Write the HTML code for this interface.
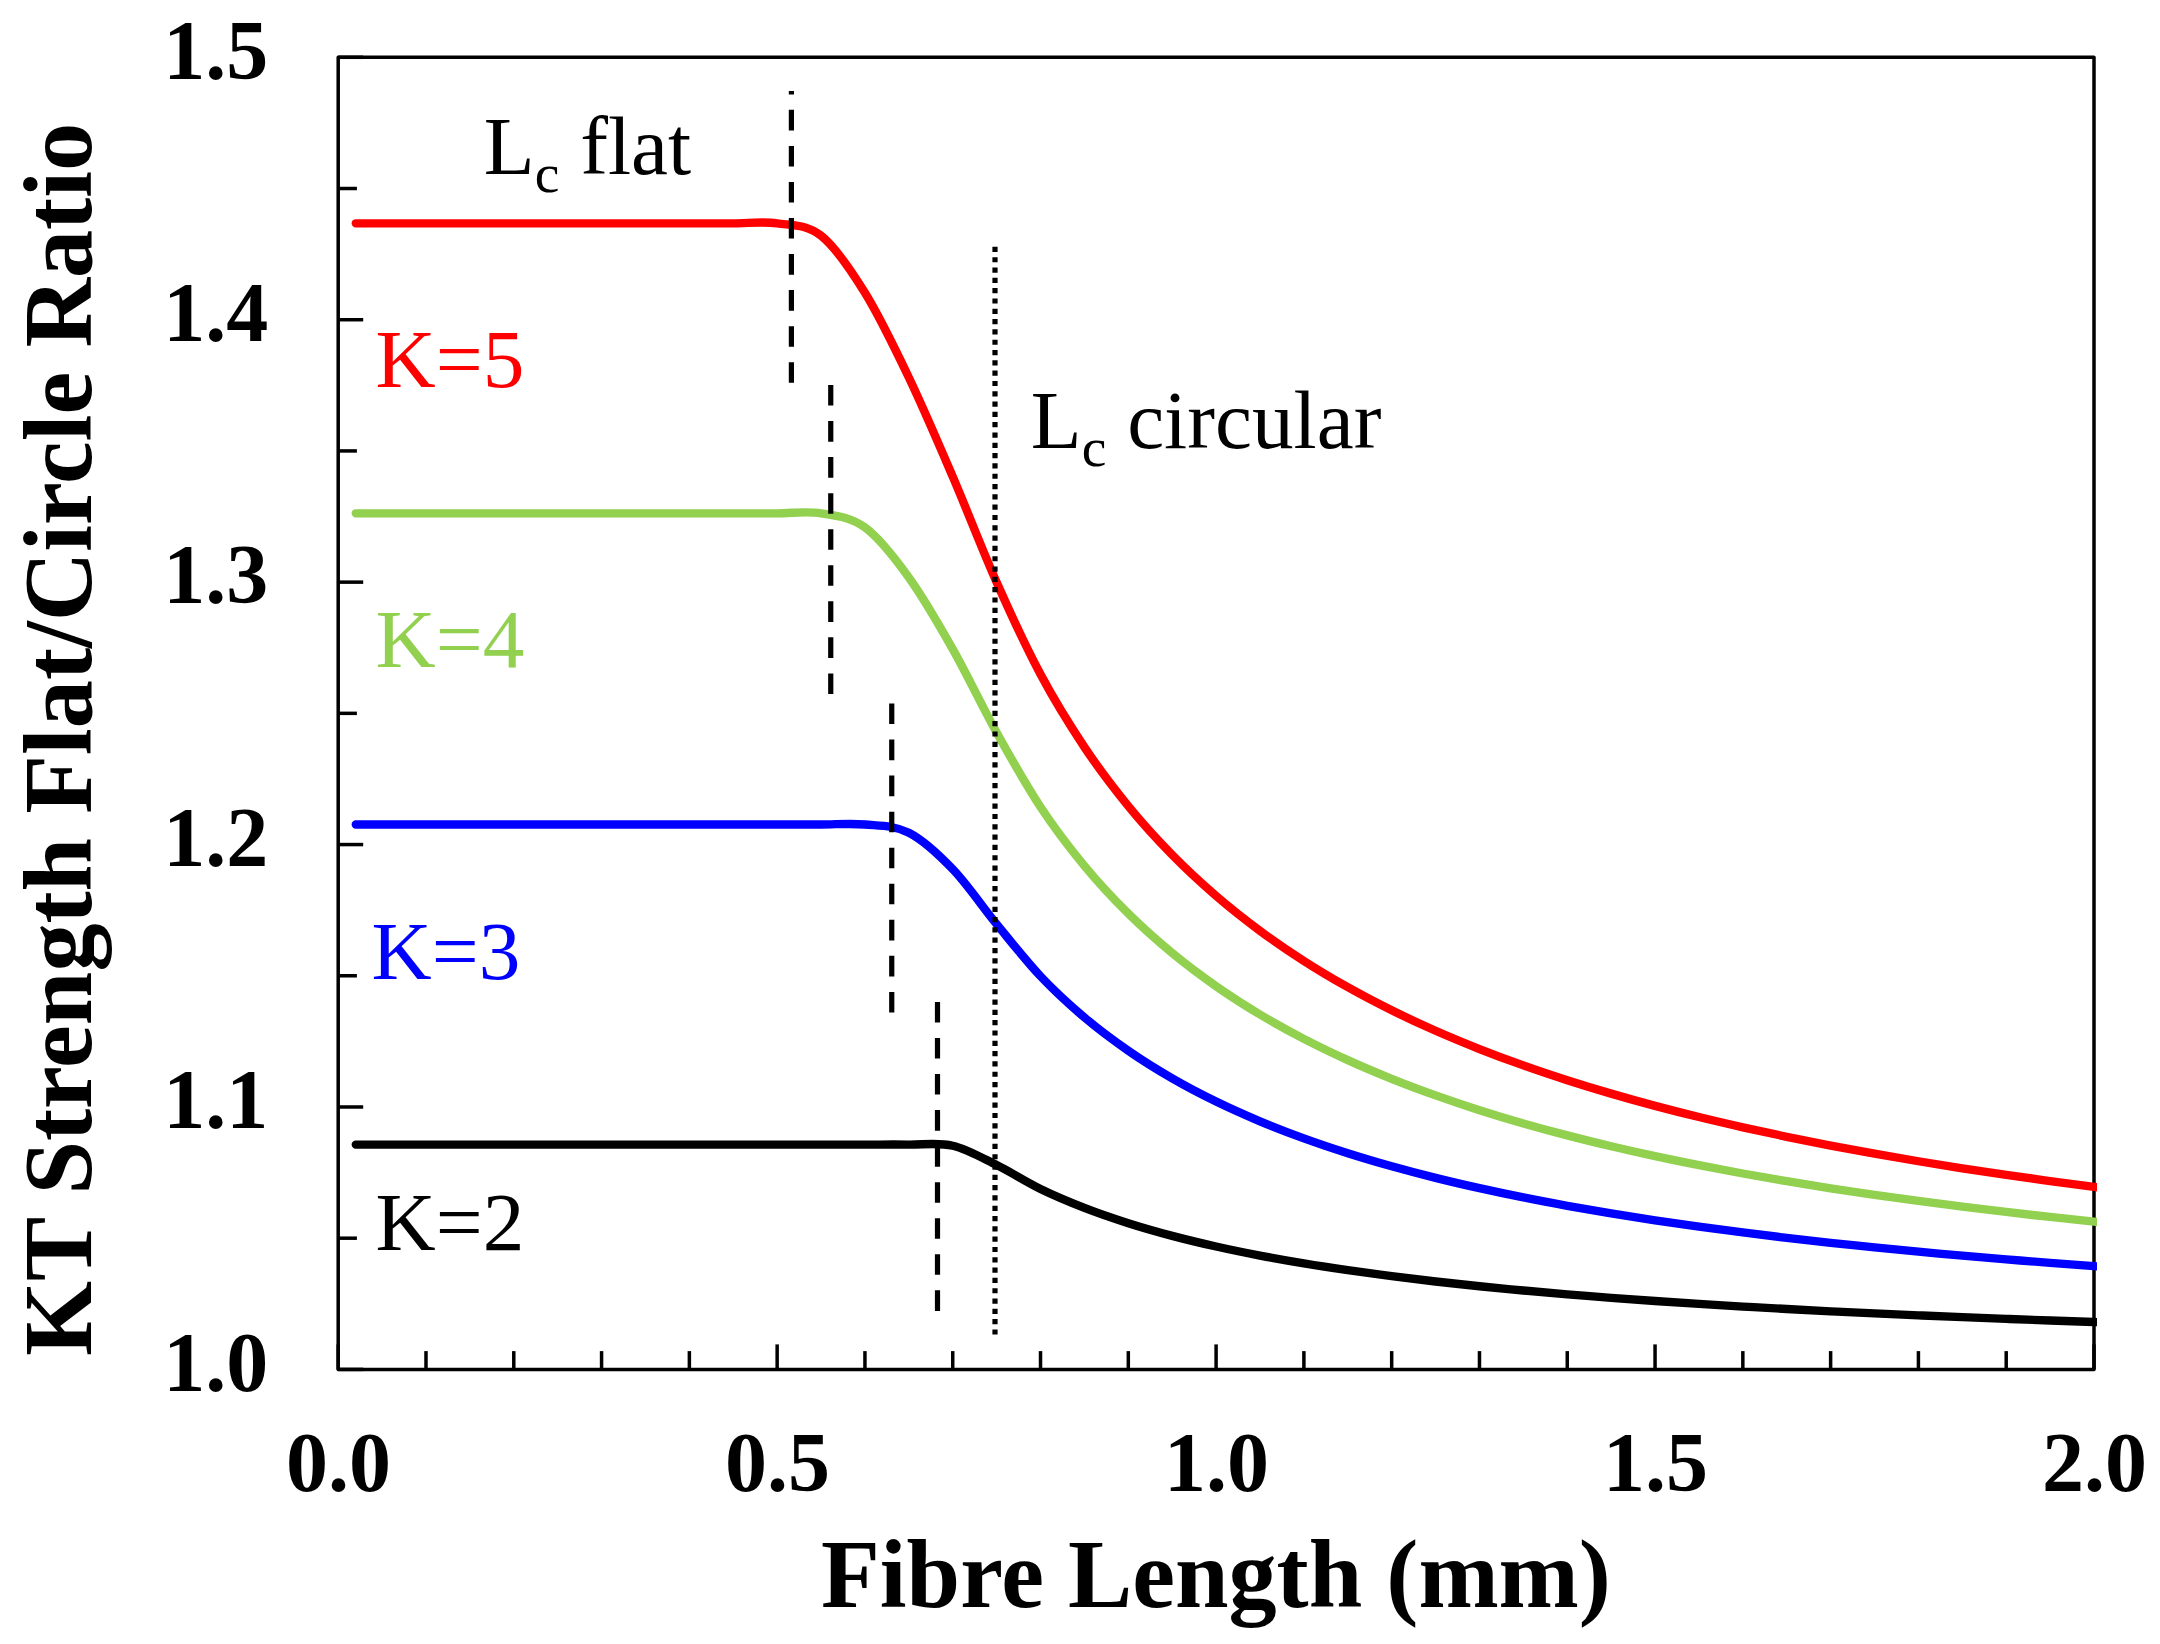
<!DOCTYPE html>
<html lang="en"><head><meta charset="utf-8"><title>KT Strength Flat/Circle Ratio vs Fibre Length</title>
<style>html,body{margin:0;padding:0;background:#fff}svg{display:block}text{font-family:"Liberation Serif","Times New Roman",serif}.b{font-weight:bold}</style></head><body>
<svg width="2160" height="1644" viewBox="0 0 2160 1644">
<rect width="2160" height="1644" fill="#fff"/>
<defs><clipPath id="cp"><rect x="330" y="50" width="1767" height="1330"/></clipPath></defs>
<g stroke="#000" stroke-width="3.50" fill="none" stroke-linecap="butt">
<rect x="338.20" y="57.30" width="1755.80" height="1312.10" stroke-linejoin="round"/>
<line x1="338.20" y1="1369.40" x2="338.20" y2="1344.40"/>
<line x1="425.99" y1="1369.40" x2="425.99" y2="1351.10"/>
<line x1="513.78" y1="1369.40" x2="513.78" y2="1351.10"/>
<line x1="601.57" y1="1369.40" x2="601.57" y2="1351.10"/>
<line x1="689.36" y1="1369.40" x2="689.36" y2="1351.10"/>
<line x1="777.15" y1="1369.40" x2="777.15" y2="1344.40"/>
<line x1="864.94" y1="1369.40" x2="864.94" y2="1351.10"/>
<line x1="952.73" y1="1369.40" x2="952.73" y2="1351.10"/>
<line x1="1040.52" y1="1369.40" x2="1040.52" y2="1351.10"/>
<line x1="1128.31" y1="1369.40" x2="1128.31" y2="1351.10"/>
<line x1="1216.10" y1="1369.40" x2="1216.10" y2="1344.40"/>
<line x1="1303.89" y1="1369.40" x2="1303.89" y2="1351.10"/>
<line x1="1391.68" y1="1369.40" x2="1391.68" y2="1351.10"/>
<line x1="1479.47" y1="1369.40" x2="1479.47" y2="1351.10"/>
<line x1="1567.26" y1="1369.40" x2="1567.26" y2="1351.10"/>
<line x1="1655.05" y1="1369.40" x2="1655.05" y2="1344.40"/>
<line x1="1742.84" y1="1369.40" x2="1742.84" y2="1351.10"/>
<line x1="1830.63" y1="1369.40" x2="1830.63" y2="1351.10"/>
<line x1="1918.42" y1="1369.40" x2="1918.42" y2="1351.10"/>
<line x1="2006.21" y1="1369.40" x2="2006.21" y2="1351.10"/>
<line x1="2094.00" y1="1369.40" x2="2094.00" y2="1344.40"/>
<line x1="338.20" y1="1369.40" x2="363.20" y2="1369.40"/>
<line x1="338.20" y1="1238.19" x2="356.90" y2="1238.19"/>
<line x1="338.20" y1="1106.98" x2="363.20" y2="1106.98"/>
<line x1="338.20" y1="975.77" x2="356.90" y2="975.77"/>
<line x1="338.20" y1="844.56" x2="363.20" y2="844.56"/>
<line x1="338.20" y1="713.35" x2="356.90" y2="713.35"/>
<line x1="338.20" y1="582.14" x2="363.20" y2="582.14"/>
<line x1="338.20" y1="450.93" x2="356.90" y2="450.93"/>
<line x1="338.20" y1="319.72" x2="363.20" y2="319.72"/>
<line x1="338.20" y1="188.51" x2="356.90" y2="188.51"/>
<line x1="338.20" y1="57.30" x2="363.20" y2="57.30"/>
</g>
<g clip-path="url(#cp)" fill="none" stroke-width="8.35" stroke-linecap="round" stroke-linejoin="round">
<path stroke="#000000" d="M355.76,1144.60C360.15,1144.60 370.39,1144.60 382.09,1144.60C393.80,1144.60 411.36,1144.60 425.99,1144.60C440.62,1144.60 455.25,1144.60 469.88,1144.60C484.52,1144.60 499.15,1144.60 513.78,1144.60C528.41,1144.60 543.04,1144.60 557.67,1144.60C572.31,1144.60 586.94,1144.60 601.57,1144.60C616.20,1144.60 630.83,1144.60 645.47,1144.60C660.10,1144.60 674.73,1144.60 689.36,1144.60C703.99,1144.60 718.62,1144.60 733.25,1144.60C747.89,1144.60 762.52,1144.60 777.15,1144.60C791.78,1144.60 806.41,1144.60 821.05,1144.60C835.68,1144.60 850.31,1144.60 864.94,1144.60C879.57,1144.60 894.20,1144.42 908.84,1144.60C923.47,1144.78 938.10,1142.29 952.73,1145.70C967.36,1149.12 981.99,1157.87 996.62,1165.08C1011.26,1172.29 1025.89,1181.85 1040.52,1188.98C1055.15,1196.11 1069.78,1202.17 1084.41,1207.87C1099.05,1213.57 1113.68,1218.52 1128.31,1223.18C1142.94,1227.84 1157.57,1231.96 1172.20,1235.84C1186.84,1239.72 1201.47,1243.20 1216.10,1246.48C1230.73,1249.77 1245.36,1252.74 1259.99,1255.55C1274.63,1258.37 1289.26,1260.94 1303.89,1263.38C1318.52,1265.82 1333.15,1268.06 1347.79,1270.20C1362.42,1272.33 1377.05,1274.31 1391.68,1276.19C1406.31,1278.07 1420.94,1279.83 1435.58,1281.50C1450.21,1283.18 1464.84,1284.74 1479.47,1286.24C1494.10,1287.74 1508.73,1289.15 1523.37,1290.49C1538.00,1291.84 1552.63,1293.11 1567.26,1294.33C1581.89,1295.55 1596.52,1296.71 1611.16,1297.82C1625.79,1298.93 1640.42,1299.98 1655.05,1300.99C1669.68,1302.00 1684.31,1302.97 1698.94,1303.90C1713.58,1304.83 1728.21,1305.71 1742.84,1306.56C1757.47,1307.42 1772.10,1308.23 1786.74,1309.02C1801.37,1309.81 1816.00,1310.57 1830.63,1311.30C1845.26,1312.03 1859.89,1312.73 1874.53,1313.41C1889.16,1314.09 1903.79,1314.74 1918.42,1315.37C1933.05,1316.00 1947.68,1316.61 1962.32,1317.20C1976.95,1317.79 1991.58,1318.35 2006.21,1318.91C2020.84,1319.46 2035.47,1319.99 2050.11,1320.51C2064.74,1321.02 2079.37,1321.52 2094.00,1322.01C2108.63,1322.49 2123.26,1322.96 2137.89,1323.42C2152.53,1323.88 2174.47,1324.53 2181.79,1324.75"/>
<path stroke="#0000ff" d="M355.76,824.50C360.15,824.50 370.39,824.50 382.09,824.50C393.80,824.50 411.36,824.50 425.99,824.50C440.62,824.50 455.25,824.50 469.88,824.50C484.52,824.50 499.15,824.50 513.78,824.50C528.41,824.50 543.04,824.50 557.67,824.50C572.31,824.50 586.94,824.50 601.57,824.50C616.20,824.50 630.83,824.50 645.47,824.50C660.10,824.50 674.73,824.50 689.36,824.50C703.99,824.50 718.62,824.50 733.25,824.50C747.89,824.50 762.52,824.50 777.15,824.50C791.78,824.50 806.41,824.50 821.05,824.50C835.68,824.50 850.31,823.13 864.94,824.50C879.57,825.87 894.20,825.27 908.84,832.72C923.47,840.16 938.10,853.92 952.73,869.16C967.36,884.40 981.99,906.32 996.62,924.17C1011.26,942.01 1025.89,960.70 1040.52,976.24C1055.15,991.78 1069.78,1004.99 1084.41,1017.41C1099.05,1029.83 1113.68,1040.62 1128.31,1050.77C1142.94,1060.93 1157.57,1069.90 1172.20,1078.36C1186.84,1086.82 1201.47,1094.39 1216.10,1101.55C1230.73,1108.71 1245.36,1115.18 1259.99,1121.32C1274.63,1127.45 1289.26,1133.05 1303.89,1138.37C1318.52,1143.69 1333.15,1148.57 1347.79,1153.23C1362.42,1157.88 1377.05,1162.18 1391.68,1166.29C1406.31,1170.39 1420.94,1174.21 1435.58,1177.86C1450.21,1181.51 1464.84,1184.92 1479.47,1188.19C1494.10,1191.45 1508.73,1194.52 1523.37,1197.46C1538.00,1200.40 1552.63,1203.16 1567.26,1205.82C1581.89,1208.48 1596.52,1211.00 1611.16,1213.41C1625.79,1215.83 1640.42,1218.12 1655.05,1220.33C1669.68,1222.54 1684.31,1224.64 1698.94,1226.66C1713.58,1228.68 1728.21,1230.61 1742.84,1232.48C1757.47,1234.34 1772.10,1236.12 1786.74,1237.83C1801.37,1239.55 1816.00,1241.20 1830.63,1242.79C1845.26,1244.38 1859.89,1245.91 1874.53,1247.39C1889.16,1248.86 1903.79,1250.28 1918.42,1251.66C1933.05,1253.04 1947.68,1254.36 1962.32,1255.64C1976.95,1256.93 1991.58,1258.17 2006.21,1259.37C2020.84,1260.57 2035.47,1261.73 2050.11,1262.85C2064.74,1263.98 2079.37,1265.07 2094.00,1266.13C2108.63,1267.19 2123.26,1268.21 2137.89,1269.21C2152.53,1270.20 2174.47,1271.62 2181.79,1272.11"/>
<path stroke="#92d050" d="M355.76,513.30C360.15,513.30 370.39,513.30 382.09,513.30C393.80,513.30 411.36,513.30 425.99,513.30C440.62,513.30 455.25,513.30 469.88,513.30C484.52,513.30 499.15,513.30 513.78,513.30C528.41,513.30 543.04,513.30 557.67,513.30C572.31,513.30 586.94,513.30 601.57,513.30C616.20,513.30 630.83,513.30 645.47,513.30C660.10,513.30 674.73,513.30 689.36,513.30C703.99,513.30 718.62,513.30 733.25,513.30C747.89,513.30 762.52,513.30 777.15,513.30C791.78,513.30 806.41,510.94 821.05,513.30C835.68,515.66 850.31,516.76 864.94,527.45C879.57,538.14 894.20,557.20 908.84,577.47C923.47,597.74 938.10,623.24 952.73,649.07C967.36,674.90 981.99,706.13 996.62,732.44C1011.26,758.75 1025.89,784.70 1040.52,806.94C1055.15,829.17 1069.78,848.06 1084.41,865.83C1099.05,883.60 1113.68,899.03 1128.31,913.56C1142.94,928.10 1157.57,940.92 1172.20,953.03C1186.84,965.14 1201.47,975.96 1216.10,986.21C1230.73,996.45 1245.36,1005.71 1259.99,1014.49C1274.63,1023.27 1289.26,1031.27 1303.89,1038.88C1318.52,1046.49 1333.15,1053.48 1347.79,1060.14C1362.42,1066.79 1377.05,1072.95 1391.68,1078.82C1406.31,1084.70 1420.94,1090.16 1435.58,1095.38C1450.21,1100.60 1464.84,1105.48 1479.47,1110.15C1494.10,1114.82 1508.73,1119.21 1523.37,1123.41C1538.00,1127.62 1552.63,1131.58 1567.26,1135.38C1581.89,1139.19 1596.52,1142.78 1611.16,1146.24C1625.79,1149.70 1640.42,1152.98 1655.05,1156.14C1669.68,1159.30 1684.31,1162.30 1698.94,1165.19C1713.58,1168.09 1728.21,1170.85 1742.84,1173.51C1757.47,1176.18 1772.10,1178.72 1786.74,1181.18C1801.37,1183.64 1816.00,1185.99 1830.63,1188.27C1845.26,1190.54 1859.89,1192.73 1874.53,1194.84C1889.16,1196.96 1903.79,1198.99 1918.42,1200.96C1933.05,1202.93 1947.68,1204.82 1962.32,1206.66C1976.95,1208.49 1991.58,1210.26 2006.21,1211.98C2020.84,1213.70 2035.47,1215.36 2050.11,1216.97C2064.74,1218.59 2079.37,1220.14 2094.00,1221.66C2108.63,1223.17 2123.26,1224.63 2137.89,1226.06C2152.53,1227.49 2174.47,1229.52 2181.79,1230.21"/>
<path stroke="#ff0000" d="M355.76,223.30C360.15,223.30 370.39,223.30 382.09,223.30C393.80,223.30 411.36,223.30 425.99,223.30C440.62,223.30 455.25,223.30 469.88,223.30C484.52,223.30 499.15,223.30 513.78,223.30C528.41,223.30 543.04,223.30 557.67,223.30C572.31,223.30 586.94,223.30 601.57,223.30C616.20,223.30 630.83,223.30 645.47,223.30C660.10,223.30 674.73,223.30 689.36,223.30C703.99,223.30 718.62,223.30 733.25,223.30C747.89,223.30 762.52,221.24 777.15,223.30C791.78,225.36 806.41,224.06 821.05,235.64C835.68,247.22 850.31,269.16 864.94,292.81C879.57,316.46 894.20,346.89 908.84,377.53C923.47,408.18 938.10,442.56 952.73,476.68C967.36,510.80 981.99,549.32 996.62,582.26C1011.26,615.20 1025.89,646.85 1040.52,674.32C1055.15,701.80 1069.78,725.14 1084.41,747.10C1099.05,769.07 1113.68,788.13 1128.31,806.09C1142.94,824.05 1157.57,839.90 1172.20,854.86C1186.84,869.82 1201.47,883.20 1216.10,895.86C1230.73,908.52 1245.36,919.96 1259.99,930.81C1274.63,941.66 1289.26,951.55 1303.89,960.95C1318.52,970.35 1333.15,978.99 1347.79,987.22C1362.42,995.45 1377.05,1003.05 1391.68,1010.31C1406.31,1017.57 1420.94,1024.32 1435.58,1030.77C1450.21,1037.22 1464.84,1043.25 1479.47,1049.03C1494.10,1054.80 1508.73,1060.22 1523.37,1065.41C1538.00,1070.61 1552.63,1075.50 1567.26,1080.21C1581.89,1084.91 1596.52,1089.35 1611.16,1093.63C1625.79,1097.90 1640.42,1101.95 1655.05,1105.86C1669.68,1109.76 1684.31,1113.47 1698.94,1117.05C1713.58,1120.63 1728.21,1124.03 1742.84,1127.33C1757.47,1130.62 1772.10,1133.76 1786.74,1136.80C1801.37,1139.84 1816.00,1142.75 1830.63,1145.56C1845.26,1148.38 1859.89,1151.07 1874.53,1153.69C1889.16,1156.30 1903.79,1158.81 1918.42,1161.24C1933.05,1163.68 1947.68,1166.01 1962.32,1168.29C1976.95,1170.56 1991.58,1172.74 2006.21,1174.87C2020.84,1176.99 2035.47,1179.04 2050.11,1181.03C2064.74,1183.03 2079.37,1184.95 2094.00,1186.82C2108.63,1188.69 2123.26,1190.50 2137.89,1192.26C2152.53,1194.03 2174.47,1196.54 2181.79,1197.39"/>
</g>
<g stroke="#000" stroke-width="5.2" fill="none">
<line x1="791.40" y1="382.80" x2="791.40" y2="91.00" stroke-dasharray="20.6 15.45"/>
<line x1="830.75" y1="694.00" x2="830.75" y2="384.60" stroke-dasharray="20.6 15.45"/>
<line x1="891.75" y1="1012.50" x2="891.75" y2="703.10" stroke-dasharray="20.6 15.45"/>
<line x1="937.50" y1="1310.90" x2="937.50" y2="1001.50" stroke-dasharray="20.6 15.45"/>
<line x1="995" y1="1334.6" x2="995" y2="246" stroke-dasharray="5.2 5.11"/>
</g>
<g font-size="84.0" class="b" text-anchor="end">
<text x="268.2" y="1390.7">1.0</text>
<text x="268.2" y="1128.3">1.1</text>
<text x="268.2" y="865.9">1.2</text>
<text x="268.2" y="603.4">1.3</text>
<text x="268.2" y="341.0">1.4</text>
<text x="268.2" y="78.6">1.5</text>
</g>
<g font-size="84.0" class="b" text-anchor="middle">
<text x="338.6" y="1490.5">0.0</text>
<text x="777.5" y="1490.5">0.5</text>
<text x="1216.5" y="1490.5">1.0</text>
<text x="1655.5" y="1490.5">1.5</text>
<text x="2094.4" y="1490.5">2.0</text>
</g>
<text class="b" font-size="96.3" x="821" y="1606.6">Fibre Length (mm)</text>
<text class="b" font-size="96.3" transform="translate(91,1356) rotate(-90)">KT Strength Flat/Circle Ratio</text>
<g font-size="83.3">
<text x="483.8" y="173.7">L<tspan font-size="55.5" dy="17.8">c</tspan><tspan dy="-17.8"> flat</tspan></text>
<text x="1030.8" y="448.4">L<tspan font-size="55.5" dy="17.8">c</tspan><tspan dy="-17.8"> circular</tspan></text>
<text x="375.5" y="386.7" fill="#ff0000">K=5</text>
<text x="375.5" y="666.9" fill="#92d050">K=4</text>
<text x="371.5" y="978.5" fill="#0000ff">K=3</text>
<text x="375.5" y="1249.6" fill="#000">K=2</text>
</g>
</svg></body></html>
